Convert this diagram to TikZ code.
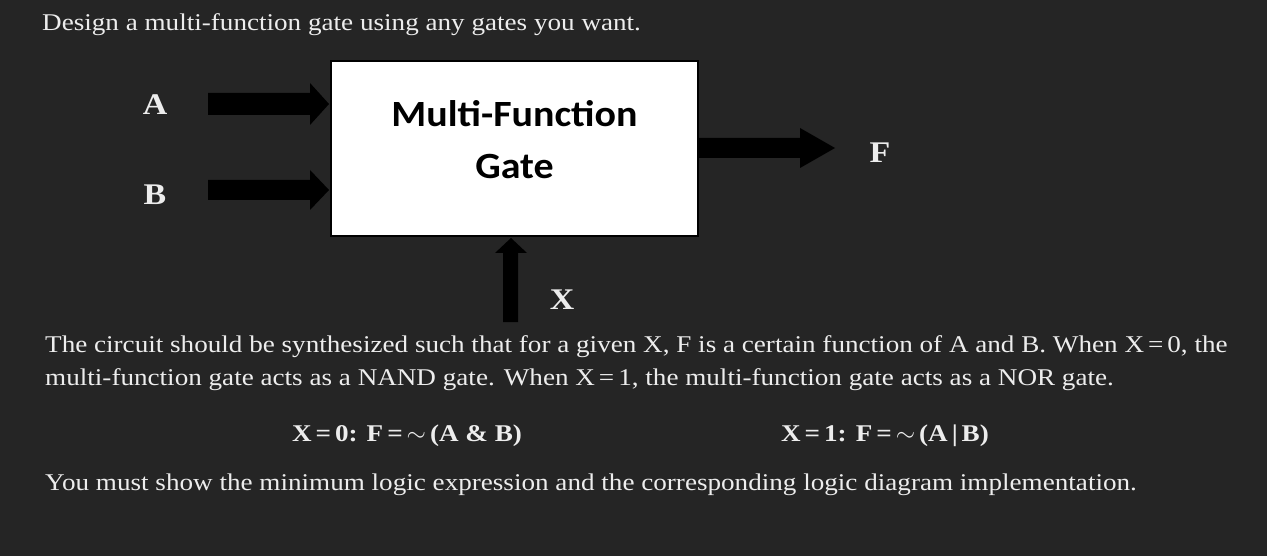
\documentclass[tikz,border=0pt]{standalone}
\usepackage{fontspec}
\setmainfont[FakeStretch=1.13]{Liberation Serif}
\newfontfamily\calfnt[FakeStretch=1.08]{Carlito}
\definecolor{bg}{HTML}{252525}
\definecolor{fg}{HTML}{EDEDED}
\begin{document}
\begin{tikzpicture}[x=1pt,y=-1pt,
  txt/.style={text=fg,inner sep=0,anchor=west},
  lbl/.style={text=fg,inner sep=0,font=\fontsize{30}{32}\selectfont\bfseries},
  fat/.style={fill=black}]
\fill[bg] (0,0) rectangle (1267,556);
\useasboundingbox (0,0) rectangle (1267,556);
\node[txt,font=\fontsize{24}{26}\selectfont] (t) at (42,25) {Design a multi-function gate using any gates you want.};
\node[draw=black,line width=1.5pt,fill=white,minimum width=367,minimum height=175,inner sep=0] (g) at (514.5,148.5) {};
\node[font=\calfnt\bfseries\fontsize{37}{52}\selectfont,align=center] at (514.5,140) {Multi-Function\\Gate};
\node[lbl] (a) at (155,105) {A};
\node[lbl] (b) at (155,195) {B};
\node[lbl] (f) at (880,153) {F};
\node[lbl] (x) at (562,300) {X};
% arrows A, B
\fill[fat] (208,93) -- (310,93) -- (310,83) -- (329,104) -- (310,125) -- (310,115) -- (208,115) -- cycle;
\fill[fat] (208,180) -- (310,180) -- (310,170) -- (329,190) -- (310,210) -- (310,200) -- (208,200) -- cycle;
% F
\fill[fat] (699,138) -- (800,138) -- (800,128) -- (835,148) -- (800,168) -- (800,158) -- (699,158) -- cycle;
% X
\fill[fat] (503,322) -- (503,253) -- (495,253) -- (511,238) -- (527,253) -- (518,253) -- (518,322) -- cycle;
\node[txt,font=\fontsize{24}{33}\selectfont,align=left,anchor=north west] (p) at (45,335) {The circuit should be synthesized such that for a given X, F is a certain function of A and B. When X\,=\,0, the\\multi-function gate acts as a NAND gate. When X\,=\,1, the multi-function gate acts as a NOR gate.};
\node[text=fg,inner sep=0,font=\fontsize{24}{28}\selectfont\bfseries] (e1) at (407,436) {X\,=\,0: F\,=\,$\sim$\,(A \& B)};
\node[text=fg,inner sep=0,font=\fontsize{24}{28}\selectfont\bfseries] (e2) at (885,436) {X\,=\,1: F\,=\,$\sim$\,(A\,|\,B)};
\node[txt,font=\fontsize{24}{28}\selectfont] (l) at (45,485) {You must show the minimum logic expression and the corresponding logic diagram implementation.};
\end{tikzpicture}
\end{document}
